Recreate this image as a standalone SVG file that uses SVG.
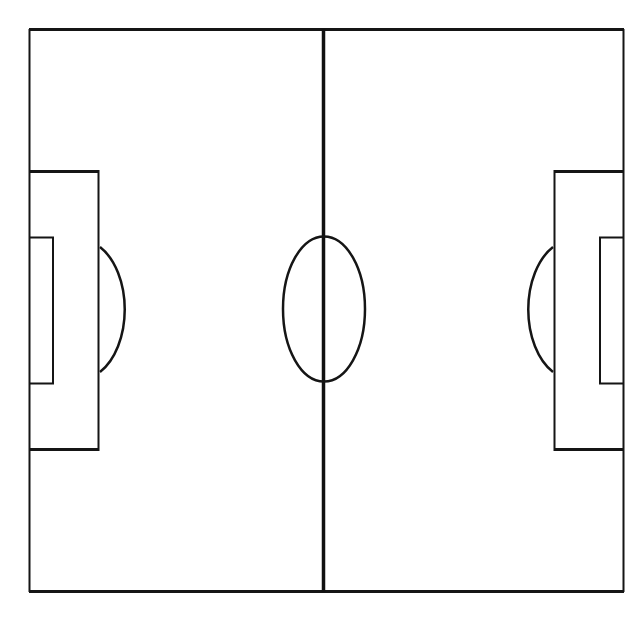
<svg xmlns="http://www.w3.org/2000/svg" width="640" height="640" viewBox="0 0 640 640">
<style>
.l{fill:none;stroke:#151515;stroke-width:2}
.h{fill:none;stroke:#151515;stroke-width:3}
.a{fill:none;stroke:#151515;stroke-width:2.5}
</style>
<rect width="640" height="640" fill="#fff"/>
<g id="pitch">
<line class="h" x1="29" y1="29.5" x2="624" y2="29.5"/>
<line class="h" x1="29" y1="591.5" x2="624" y2="591.5"/>
<line class="l" x1="29.5" y1="29" x2="29.5" y2="592"/>
<line class="l" x1="623.5" y1="29" x2="623.5" y2="592"/>
<line x1="323.5" y1="29" x2="323.5" y2="592" stroke="#111" stroke-width="3.5"/>
<ellipse class="a" cx="324" cy="309" rx="41" ry="72.5"/>
</g>
<g id="left-penalty">
<line class="h" x1="29" y1="171.5" x2="99" y2="171.5"/>
<line class="h" x1="29" y1="449.5" x2="99" y2="449.5"/>
<line class="l" x1="98.5" y1="170" x2="98.5" y2="451"/>
<polyline class="l" points="29,237.5 53,237.5 53,383.5 29,383.5"/>
<path class="a" d="M100,247 A45,70 0 0 1 100,372"/>
</g>
<g id="right-penalty">
<line class="h" x1="554" y1="171.5" x2="624" y2="171.5"/>
<line class="h" x1="554" y1="449.5" x2="624" y2="449.5"/>
<line class="l" x1="554.5" y1="170" x2="554.5" y2="451"/>
<polyline class="l" points="624,237.5 600,237.5 600,383.5 624,383.5"/>
<path class="a" d="M553,247 A45,70 0 0 0 553,372"/>
</g>
</svg>
